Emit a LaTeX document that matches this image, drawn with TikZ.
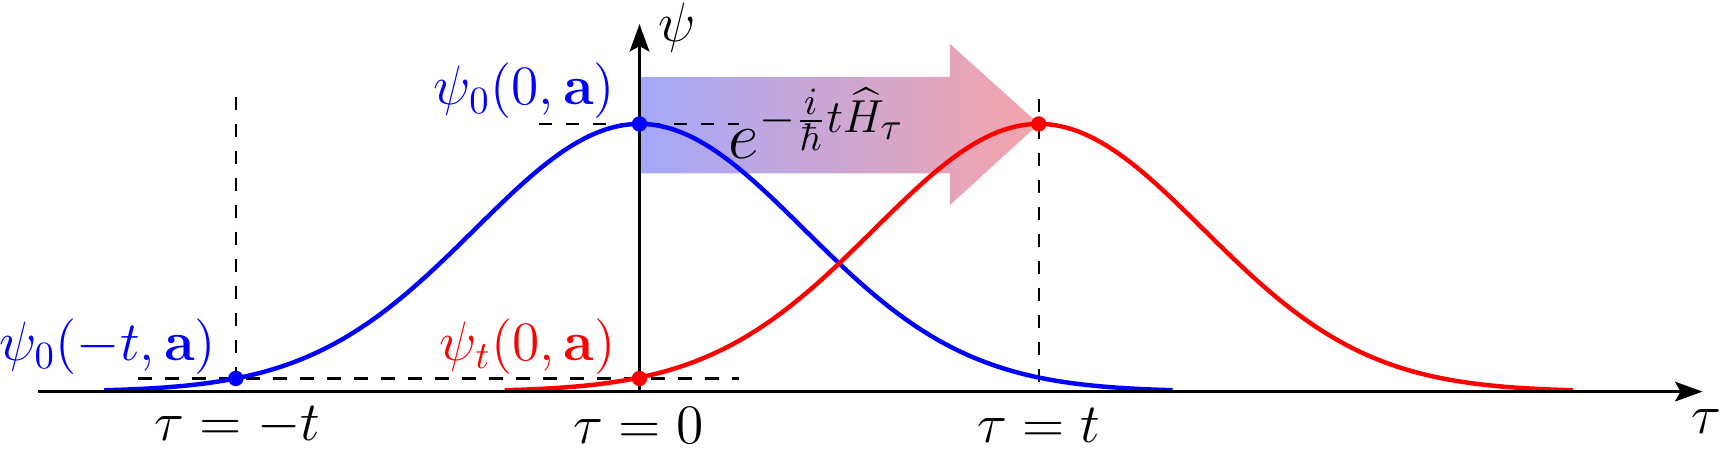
\documentclass[tikz,border=0pt]{standalone}
\usepackage{amsmath}
\usetikzlibrary{arrows.meta}
\definecolor{arrL}{RGB}{164,168,250}
\definecolor{arrR}{RGB}{246,164,170}
\begin{document}
\begin{tikzpicture}[x=0.01cm,y=-0.01cm,
  axis/.style={line width=0.6pt,-{Stealth[length=0.25cm,width=0.18cm,inset=0.05cm]}},
  guide/.style={line width=0.55pt,dash pattern=on 3.5pt off 3.5pt},
  curve/.style={line width=1.15pt},
  dot/.style={circle,inner sep=0pt,minimum size=0.14cm},
  lbl/.style={font=\Large,inner sep=0pt}]
\useasboundingbox (0,0) rectangle (1568,409);
% gradient arrow
\shade[left color=arrL,right color=arrR]
  (585,70) -- (866,70) -- (866,40) -- (947,113) -- (866,187) -- (866,158) -- (585,158) -- cycle;
% coordinates
\coordinate (O) at (583,357);
\coordinate (xs) at (35,357);
\coordinate (xe) at (1552,357);
\coordinate (ye) at (583,22);
\coordinate (p0) at (583,113);
\coordinate (pt) at (947,113);
\coordinate (bm) at (215,345);
\coordinate (r0) at (583,345);
\coordinate (vmt) at (215,88);
\coordinate (vmb) at (215,357);
\coordinate (vpt) at (947,90);
\coordinate (vpb) at (947,357);
\coordinate (h1s) at (491,113);
\coordinate (h1e) at (674,113);
\coordinate (h2s) at (126,345);
\coordinate (h2e) at (674,345);
% guides
\draw[guide] (vmt) -- (vmb);
\draw[guide] (vpt) -- (vpb);
\draw[guide] (h1s) -- (h1e);
\draw[guide] (h2s) -- (h2e);
% curves
\draw[curve,blue] plot[domain=95:1069,samples=240,smooth] (\x,{357-244*exp(-0.5*((\x-583)/150)^2)});
\draw[curve,red] plot[domain=460:1434,samples=240,smooth] (\x,{357-244*exp(-0.5*((\x-947)/150)^2)});
% axes
\draw[axis] (xs) -- (xe);
\draw[axis] (O) -- (ye);
% dots
\node[dot,fill=blue] (d1) at (p0) {};
\node[dot,fill=blue] (d2) at (bm) {};
\node[dot,fill=red] (d3) at (pt) {};
\node[dot,fill=red] (d4) at (r0) {};
% labels
\node[lbl] (tau) at (1556,384) {$\tau$};
\node[lbl] (psi) at (617,25) {$\psi$};
\node[lbl,text=blue] (l1) at (478,83) {$\psi_0(0,\mathbf{a})$};
\node[lbl,text=blue] (l2) at (98,316) {$\psi_0(-t,\mathbf{a})$};
\node[lbl,text=red] (l3) at (481,316) {$\psi_t(0,\mathbf{a})$};
\node[lbl] (t1) at (216,388) {$\tau=-t$};
\node[lbl] (t2) at (582,388) {$\tau=0$};
\node[lbl] (t3) at (947,388) {$\tau=t$};
\node[lbl,font=\LARGE] (op) at (745,112) {$e^{-\frac{i}{\hbar}t\widehat{H}_\tau}$};
\end{tikzpicture}
\end{document}
